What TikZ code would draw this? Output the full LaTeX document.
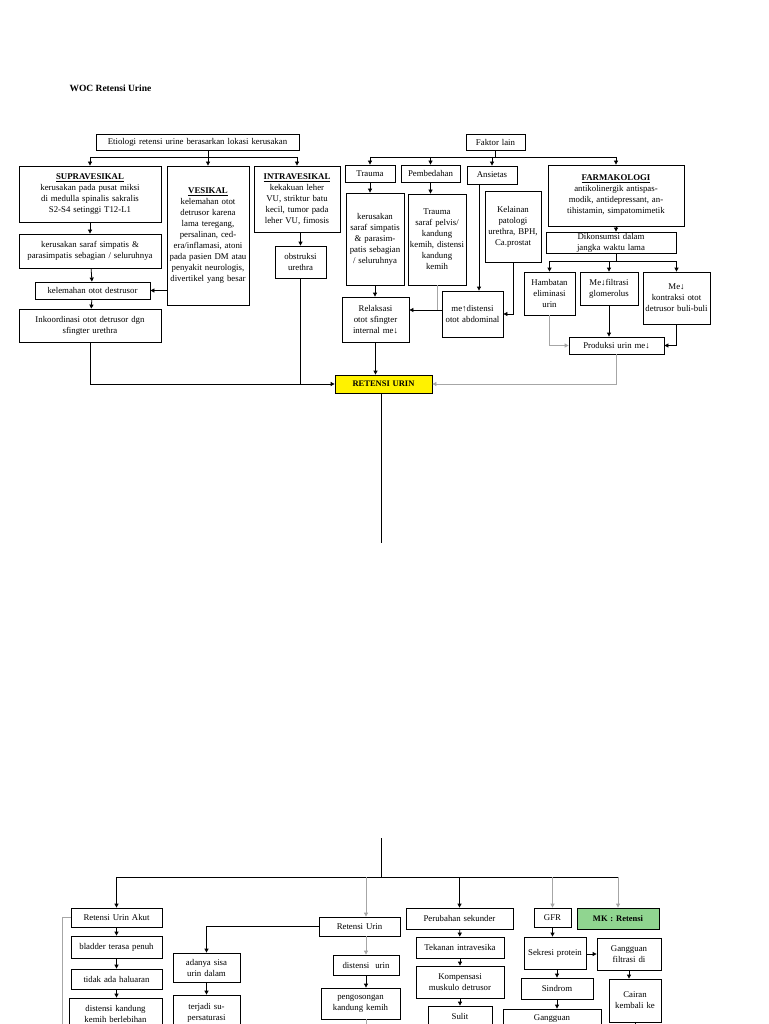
\documentclass[tikz,border=0pt]{standalone}
\usepackage{fontspec}
\setmainfont{Liberation Serif}
\usetikzlibrary{arrows.meta}
\tikzset{
  box/.style={draw,thick,align=center,inner sep=1pt,font=\fontsize{8.8}{11}\selectfont},
  arr/.style={-{Triangle[length=4pt,width=4pt]}},
  ln/.style={thick},
  gln/.style={thick,gray!70}
}
\newcommand\bx[7][]{%
  \pgfmathsetmacro\bxw{#5-#3}\pgfmathsetmacro\bxh{#6-#4}\pgfmathsetmacro\bxt{#5-#3-3}%
  \pgfmathsetmacro\bxcx{(#3+#5)/2}\pgfmathsetmacro\bxcy{(#4+#6)/2}%
  \node[box,minimum width=\bxw pt,minimum height=\bxh pt,text width=\bxt pt,#1] (#2) at (\bxcx,\bxcy) {#7};}
\begin{document}
\begin{tikzpicture}[x=1pt,y=-1pt]
\useasboundingbox (0,0) rectangle (768,1024);
\fill[white] (0,0) rectangle (768,1024);
\clip (0,0) rectangle (768,1024);
\node[anchor=west,font=\fontsize{9.5}{11}\selectfont\bfseries] (title) at (66,88) {WOC Retensi Urine};
% left top
\bx{etio}{96}{134}{299}{150}{Etiologi retensi urine berasarkan lokasi kerusakan}
\bx{supra}{19}{166}{161}{222}{\textbf{\underline{SUPRAVESIKAL}}\\kerusakan pada pusat miksi di medulla spinalis sakralis S2-S4 setinggi T12-L1}
\bx{vesi}{167}{166}{249}{305}{\textbf{\underline{VESIKAL}}\\kelemahan otot detrusor karena lama teregang, persalinan, cedera/inflamasi, atoni pada pasien DM atau penyakit neurologis, divertikel yang besar}
\bx{intra}{254}{166}{340}{232}{\textbf{\underline{INTRAVESIKAL}}\\kekakuan leher VU, striktur batu kecil, tumor pada leher VU, fimosis}
\bx{kss}{19}{234}{161}{268}{kerusakan saraf simpatis \&\\parasimpatis sebagian / seluruhnya}
\bx{kel}{35}{282}{150}{299}{kelemahan otot destrusor}
\bx{inko}{19}{309}{161}{342}{Inkoordinasi otot detrusor dgn\\sfingter urethra}
\bx{obs}{275}{246}{326}{278}{obstruksi urethra}
\bx[fill=yellow,font=\fontsize{8.5}{10}\selectfont\bfseries]{ret}{335}{375}{432}{393}{RETENSI URIN}
% right top
\bx{fl}{466}{134}{525}{150}{Faktor lain}
\bx{trauma}{345}{165}{395}{182}{Trauma}
\bx{pemb}{401}{165}{460}{182}{Pembedahan}
\bx{ans}{467}{166}{517}{184}{Ansietas}
\bx{farm}{548}{165}{684}{226}{\textbf{\underline{FARMAKOLOGI}}\\antikolinergik antispasmodik, antidepressant, antihistamin, simpatomimetik}
\bx{ks2}{346}{193}{404}{285}{kerusakan saraf simpatis \& parasim-\\patis sebagian / seluruhnya}
\bx{tsp}{408}{194}{466}{285}{Trauma saraf pelvis/ kandung kemih, distensi kandung kemih}
\bx{kel2}{485}{191}{541}{262}{Kelainan patologi urethra, BPH, Ca.prostat}
\bx{dist}{442}{291}{503}{337}{me↑distensi otot abdominal}
\bx{rel}{342}{297}{409}{342}{Relaksasi otot sfingter internal me↓}
\bx{dik}{546}{234}{676}{251}{Dikonsumsi dalam jangka waktu lama}
\bx{hamb}{524}{272}{575}{315}{Hambatan eliminasi urin}
\bx{filt}{580}{272}{638}{305}{Me↓filtrasi glomerolus}
\bx{kont}{643}{272}{710}{324}{Me↓\\kontraksi otot detrusor buli-buli}
\bx{prod}{569}{337}{664}{354}{Produksi urin me↓}
% bottom
\bx{akut}{71}{908}{162}{927}{Retensi Urin Akut}
\bx{blad}{71}{936}{162}{958}{bladder terasa penuh}
\bx{tidak}{71}{969}{162}{989}{tidak ada haluaran}
\bx{dkk}{69}{998}{162}{1030}{distensi kandung kemih berlebihan}
\bx{sisa}{173}{953}{240}{982}{adanya sisa urin dalam}
\bx{terj}{173}{995}{240}{1030}{terjadi supersaturasi}
\bx{ru}{319}{917}{400}{936}{Retensi Urin}
\bx{du}{333}{955}{399}{975}{distensi \ urin}
\bx{peng}{321}{988}{400}{1019}{pengosongan kandung kemih}
\bx{pers}{406}{908}{513}{929}{Perubahan sekunder}
\bx{tek}{416}{937}{504}{958}{Tekanan intravesika}
\bx{komp}{416}{966}{504}{998}{Kompensasi muskulo detrusor}
\bx{sul}{428}{1006}{492}{1026}{Sulit}
\bx{gfr}{534}{908}{571}{927}{GFR}
\bx[fill=green!45!gray!60,font=\fontsize{8.5}{10}\selectfont\bfseries]{mk}{577}{908}{659}{929}{MK : Retensi}
\bx{sek}{524}{937}{586}{969}{Sekresi protein}
\bx{gf}{597}{938}{661}{970}{Gangguan filtrasi di}
\bx{sin}{521}{978}{593}{999}{Sindrom}
\bx{gg}{503}{1009}{601}{1028}{Gangguan}
\bx{cair}{609}{979}{661}{1022}{Cairan kembali ke}
% connectors top-left
\draw[ln,arr] (vesi.north|-etio.south) -- (vesi.north);
\draw[ln] (supra.north|-0,157) -- (intra.north|-0,157);
\draw[ln,arr] (supra.north|-0,157) -- (supra.north);
\draw[ln,arr] (intra.north|-0,157) -- (intra.north);
\draw[ln,arr] (supra) -- (kss);
\draw[ln,arr] (kss) -- (kel);
\draw[ln,arr] (kel) -- (inko);
\draw[ln,arr] (vesi.west|-kel) -- (kel.east);
\draw[ln,arr] (intra.south-|obs) -- (obs.north);
\draw[ln,arr] (inko.south) |- (ret.west);
\draw[ln] (obs.south) -- (obs.south|-ret.west);
% top-right
\draw[ln] (fl.south) -- (fl.south|-0,157);
\draw[ln] (trauma.north|-0,157) -- (farm.north|-0,157);
\draw[ln,arr] (trauma.north|-0,157) -- (trauma.north);
\draw[ln,arr] (pemb.north|-0,157) -- (pemb.north);
\draw[ln,arr] (ans.north|-0,157) -- (ans.north);
\draw[ln,arr] (farm.north|-0,157) -- (farm.north);
\draw[ln,arr] (trauma.south) -- (ks2.north-|trauma);
\draw[ln,arr] (pemb.south) -- (tsp.north-|pemb);
\draw[ln,arr] (ks2.south) -- (rel.north-|ks2.south);
\draw[gln] (tsp.south) -- (tsp.south|-0,310);
\draw[ln,arr] (dist.west|-0,310) -- (rel.east|-0,310);
\coordinate (ansx) at (479,184);
\draw[ln,arr] (ansx) -- (ansx|-dist.north);
\draw[ln,arr] (kel2.south) |- (dist.east);
\draw[ln,arr] (rel.south) -- (rel.south|-ret.north);
\draw[ln,arr] (farm.south) -- (farm.south|-dik.north);
\draw[ln] (farm.south|-dik.south) -- (farm.south|-0,261);
\draw[ln] (hamb.north|-0,261) -- (kont.north|-0,261);
\draw[ln,arr] (hamb.north|-0,261) -- (hamb.north);
\draw[ln,arr] (filt.north|-0,261) -- (filt.north);
\draw[ln,arr] (kont.north|-0,261) -- (kont.north);
\draw[ln,arr] (filt.south) -- (filt.south|-prod.north);
\draw[gln,arr] (hamb.south) |- (prod.west);
\draw[ln,arr] (kont.south) |- (prod.east);
\draw[gln,arr] (prod.south) |- (ret.east);
\coordinate (mid) at (381,543);
\draw[ln] (ret.south-|mid) -- (mid);
% bottom
\coordinate (btop) at (381,838);
\draw[ln] (btop) -- (381,877);
\draw[ln] (akut.north|-0,877) -- (mk.north|-0,877);
\draw[ln,arr] (akut.north|-0,877) -- (akut.north);
\draw[gln,arr] (du.north|-0,877) -- (du.north|-ru.north);
\draw[ln,arr] (pers.north|-0,877) -- (pers.north);
\draw[gln,arr] (gfr.north|-0,877) -- (gfr.north);
\draw[gln,arr] (mk.north|-0,877) -- (mk.north);
\draw[ln,arr] (akut) -- (blad);
\draw[ln,arr] (blad) -- (tidak);
\draw[ln,arr] (tidak) -- (dkk.north-|tidak);
\coordinate (lb) at (62,1030);
\draw[gln] (akut.west) -| (lb);
\draw[ln,arr] (ru.west) -| (sisa.north);
\draw[ln,arr] (sisa) -- (terj);
\draw[gln,arr] (du.north|-ru.south) -- (du.north);
\draw[ln,arr] (du) -- (peng.north-|du);
\coordinate (pb) at (366,1030);
\draw[gln] (peng.south-|pb) -- (pb);
\draw[ln,arr] (pers) -- (tek);
\draw[ln,arr] (tek) -- (komp);
\draw[ln,arr] (komp) -- (sul);
\draw[ln,arr] (gfr.south) -- (sek.north-|gfr.south);
\draw[ln,arr] (sek.east|-gf) -- (gf.west);
\draw[ln,arr] (sek.south-|sin) -- (sin.north);
\draw[ln,arr] (sin) -- (gg.north-|sin);
\draw[ln,arr] (gf.south) -- (gf.south|-cair.north);
\coordinate (cb) at (635,1030);
\draw[ln] (cair.south) -- (cb);
\end{tikzpicture}
\end{document}
